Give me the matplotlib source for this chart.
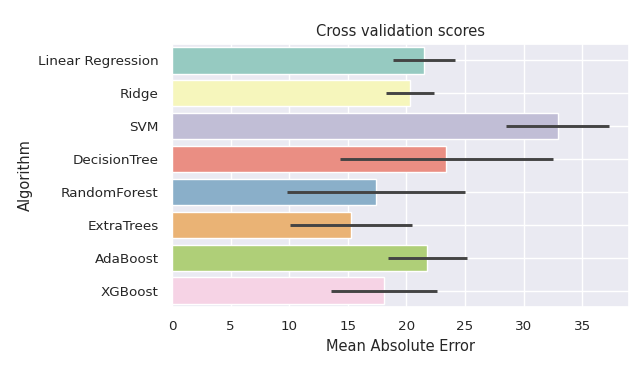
import matplotlib
matplotlib.use("Agg")
import matplotlib.pyplot as plt
import seaborn as sns
import numpy as np

algorithms = ["Linear Regression", "Ridge", "SVM", "DecisionTree",
              "RandomForest", "ExtraTrees", "AdaBoost", "XGBoost"]
cv_means = [21.5, 20.3, 32.9, 23.4, 17.4, 15.3, 21.8, 18.1]
cv_std = [2.65, 2.05, 4.4, 9.1, 7.6, 5.2, 3.35, 4.55]

sns.set_theme(style="darkgrid")
plt.rcParams['font.family'] = ['DejaVu Sans']

fig = plt.figure(figsize=(6.39, 3.75), dpi=100)
ax = fig.add_axes([172/639, 1-307/375, (629-172)/639, (307-44)/375])

colors = sns.color_palette("Set3", len(algorithms), desat=0.75)
y = np.arange(len(algorithms))
ax.barh(y, cv_means, height=0.8, color=colors, edgecolor="white", linewidth=1,
        xerr=cv_std, error_kw=dict(ecolor="#444444", elinewidth=2.1, capsize=0))
ax.set_yticks(y)
ax.set_yticklabels(algorithms, fontsize=9.7)
ax.set_ylim(len(algorithms) - 0.5, -0.5)
ax.set_xlim(0, 39)
ax.set_xticks([0, 5, 10, 15, 20, 25, 30, 35])
ax.tick_params(axis='x', labelsize=9.7)
ax.set_xlabel("Mean Absolute Error", fontsize=10.5)
ax.set_ylabel("Algorithm", fontsize=10.5)
ax.set_title("Cross validation scores", fontsize=10.5)

fig.savefig("out.png", dpi=100)
